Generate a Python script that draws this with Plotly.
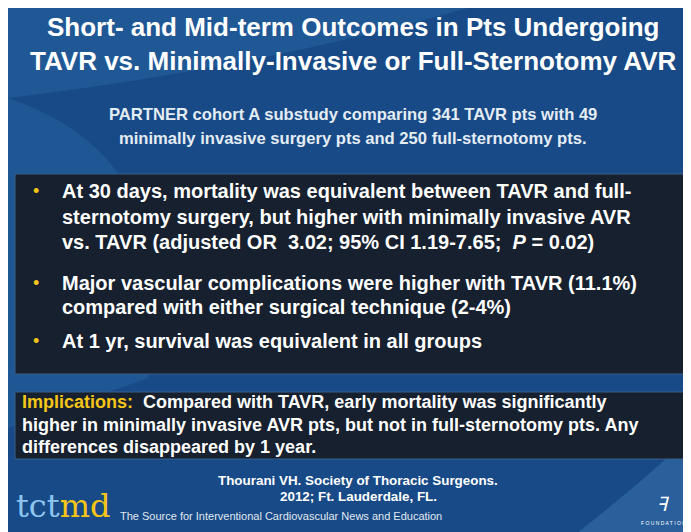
import plotly.graph_objects as go

title_lines = ["Short- and Mid-term Outcomes in Pts Undergoing",
               "TAVR vs. Minimally-Invasive or Full-Sternotomy AVR"]
subtitle_lines = ["PARTNER cohort A substudy comparing 341 TAVR pts with 49",
                  "minimally invasive surgery pts and 250 full-sternotomy pts."]
bullets = [
    ["At 30 days, mortality was equivalent between TAVR and full-",
     "sternotomy surgery, but higher with minimally invasive AVR",
     "vs. TAVR (adjusted OR  3.02; 95% CI 1.19-7.65;  <i>P</i> = 0.02)"],
    ["Major vascular complications were higher with TAVR (11.1%)",
     "compared with either surgical technique (2-4%)"],
    ["At 1 yr, survival was equivalent in all groups"],
]
bullet_y = [[189, 215, 240], [281, 305], [339]]
impl_lines = ["<span style='color:#f5c518'>Implications:</span>  Compared with TAVR, early mortality was significantly",
              "higher in minimally invasive AVR pts, but not in full-sternotomy pts. Any",
              "differences disappeared by 1 year."]
impl_y = [400, 423, 445]
citation = ["Thourani VH. Society of Thoracic Surgeons.", "2012; Ft. Lauderdale, FL."]
tagline = "The Source for Interventional Cardiovascular News and Education"

W, H = 691, 532
D = -6
fig = go.Figure()
F = "Liberation Sans, Arial, sans-serif"
shapes = [
    dict(type="rect", x0=0, x1=W, y0=0, y1=H, fillcolor="#174a86", line_width=0, layer="below"),
    dict(type="path", path="M 0 90 Q 250 60 460 0 L 0 0 Z", fillcolor="#2a66a6", opacity=0.5, line_width=0, layer="below"),
    dict(type="path", path="M 0 90 Q 180 150 140 370 L 0 420 Z", fillcolor="#2a66a6", opacity=0.45, line_width=0, layer="below"),
    dict(type="path", path="M 560 532 Q 640 470 691 420 L 691 532 Z", fillcolor="#3b76b2", opacity=0.5, line_width=0, layer="below"),
    dict(type="rect", x0=7, x1=686, y0=166, y1=366, fillcolor="#16202e", line=dict(color="#3a5f88", width=1)),
    dict(type="rect", x0=7, x1=684, y0=384, y1=451, fillcolor="#16202e", line=dict(color="#3a5f88", width=1)),
]
ann = []
for t, y in zip(title_lines, [25, 59]):
    ann.append(dict(x=345, y=y + D, text="<b>%s</b>" % t, font=dict(size=26, color="white", family=F)))
for t, y in zip(subtitle_lines, [112, 136]):
    ann.append(dict(x=345, y=y + D, text="<b>%s</b>" % t, font=dict(size=16.6, color="#e4ecf4", family=F)))
for lines, ys in zip(bullets, bullet_y):
    ann.append(dict(x=28, y=ys[0] + D, text="•", font=dict(size=18, color="#f5c518", family=F)))
    for t, y in zip(lines, ys):
        ann.append(dict(x=52, y=y + D, text="<b>%s</b>" % t, xanchor="left", font=dict(size=20, color="white", family=F)))
for t, y in zip(impl_lines, impl_y):
    ann.append(dict(x=12, y=y + D, text="<b>%s</b>" % t, xanchor="left", font=dict(size=18, color="white", family=F)))
for t, y in zip(citation, [478, 494]):
    ann.append(dict(x=350, y=y + D, text="<b>%s</b>" % t, font=dict(size=13.4, color="white", family=F)))
ann.append(dict(x=6, y=498, xanchor="left", text="<span style='color:#8ec5ef'>tct</span><span style='color:#f5c518'>md</span>",
                font=dict(size=32, family="DejaVu Serif, serif")))
ann.append(dict(x=110, y=508, xanchor="left", text=tagline, font=dict(size=11, color="#e0e8f0", family=F)))
ann.append(dict(x=655, y=496, text="<i>ꟻ</i>", font=dict(size=20, color="white", family=F)))
ann.append(dict(x=655, y=515, text="F O U N D A T I O N", font=dict(size=5, color="white", family=F)))
for a in ann:
    a.update(xref="x", yref="y", showarrow=False)
    a.setdefault("xanchor", "center")
fig.update_layout(width=W, height=H, margin=dict(l=0, r=0, t=0, b=0),
                  paper_bgcolor="#174a86", plot_bgcolor="#174a86",
                  shapes=shapes, annotations=ann, showlegend=False,
                  xaxis=dict(range=[0, W], visible=False, fixedrange=True),
                  yaxis=dict(range=[H, 0], visible=False, fixedrange=True))
fig.write_html("out.html", config={"displayModeBar": False})
